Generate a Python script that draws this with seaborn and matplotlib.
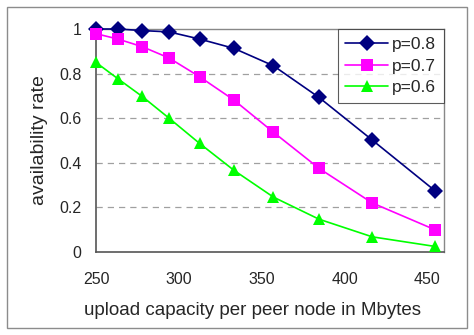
import matplotlib
matplotlib.use("Agg")
import matplotlib.pyplot as plt
import seaborn as sns
import pandas as pd
from matplotlib.patches import Rectangle

capacity = [250, 263.2, 277.8, 294.1, 312.5, 333.3, 357.1, 384.6, 416.7, 454.5]
p08 = [1.0, 1.0, 0.993, 0.987, 0.955, 0.913, 0.835, 0.693, 0.502, 0.275]
p07 = [0.979, 0.955, 0.921, 0.870, 0.786, 0.681, 0.537, 0.375, 0.220, 0.100]
p06 = [0.85, 0.777, 0.698, 0.60, 0.487, 0.366, 0.246, 0.147, 0.068, 0.025]
series_names = ["p=0.8", "p=0.7", "p=0.6"]
xticks = [250, 300, 350, 400, 450]
yticks = [0, 0.2, 0.4, 0.6, 0.8, 1]
ytick_labels = ["0", "0.2", "0.4", "0.6", "0.8", "1"]

rows = []
for name, vals in zip(series_names, [p08, p07, p06]):
    for x, y in zip(capacity, vals):
        rows.append({"x": x, "y": y, "series": name})
df = pd.DataFrame(rows)

sns.set_style("white")
plt.rcParams["font.family"] = ["Liberation Sans", "DejaVu Sans"]

fig = plt.figure(figsize=(4.74, 3.35), dpi=100)
fig.patches.append(Rectangle((7 / 474, 1 - 328 / 335), 460 / 474, 321 / 335,
                             transform=fig.transFigure, fill=False,
                             edgecolor="#8c8c8c", linewidth=1.0))
ax = fig.add_axes([96 / 474, 1 - 252 / 335, 348 / 474, 223 / 335])

palette = {"p=0.8": "#000080", "p=0.7": "#FF00FF", "p=0.6": "#00FF00"}
markers = {"p=0.8": "D", "p=0.7": "s", "p=0.6": "^"}
sns.lineplot(data=df, x="x", y="y", hue="series", style="series",
             hue_order=series_names, style_order=series_names,
             palette=palette, markers=markers, dashes=False,
             linewidth=1.2, markersize=8.5, markeredgewidth=0,
             ax=ax, zorder=3, clip_on=False)

ax.set_xlim(250, 460)
ax.set_ylim(0, 1)
ax.set_xticks(xticks)
ax.set_yticks(yticks)
ax.set_yticklabels(ytick_labels)
ax.tick_params(axis="both", labelsize=11.5, length=4, width=1, color="#555555",
               direction="out")
ax.tick_params(axis="y", pad=6.5)
ax.tick_params(axis="x", pad=10.5)
for yv in yticks[1:-1]:
    ax.axhline(yv, color="#a0a0a0", linestyle=(0, (5, 4)), linewidth=0.9, zorder=1)

for s in ["left", "bottom"]:
    ax.spines[s].set_color("#555555")
    ax.spines[s].set_linewidth(1.2)
for s in ["top", "right"]:
    ax.spines[s].set_color("#888888")
    ax.spines[s].set_linewidth(1.0)

ax.set_xlabel("upload capacity per peer node in Mbytes", fontsize=13.5, labelpad=9)
ax.xaxis.set_label_coords(0.451, -0.222)
ax.set_ylabel("availability rate", fontsize=14, labelpad=8)

leg = ax.legend(loc="upper right", fontsize=12.5, frameon=True, fancybox=False,
                borderaxespad=0, handlelength=2.45, handletextpad=0.25,
                labelspacing=0.38, borderpad=0.45)
leg.get_frame().set_edgecolor("#333333")
leg.get_frame().set_linewidth(0.8)
leg.set_title(None)

fig.savefig("out.png", dpi=100)
